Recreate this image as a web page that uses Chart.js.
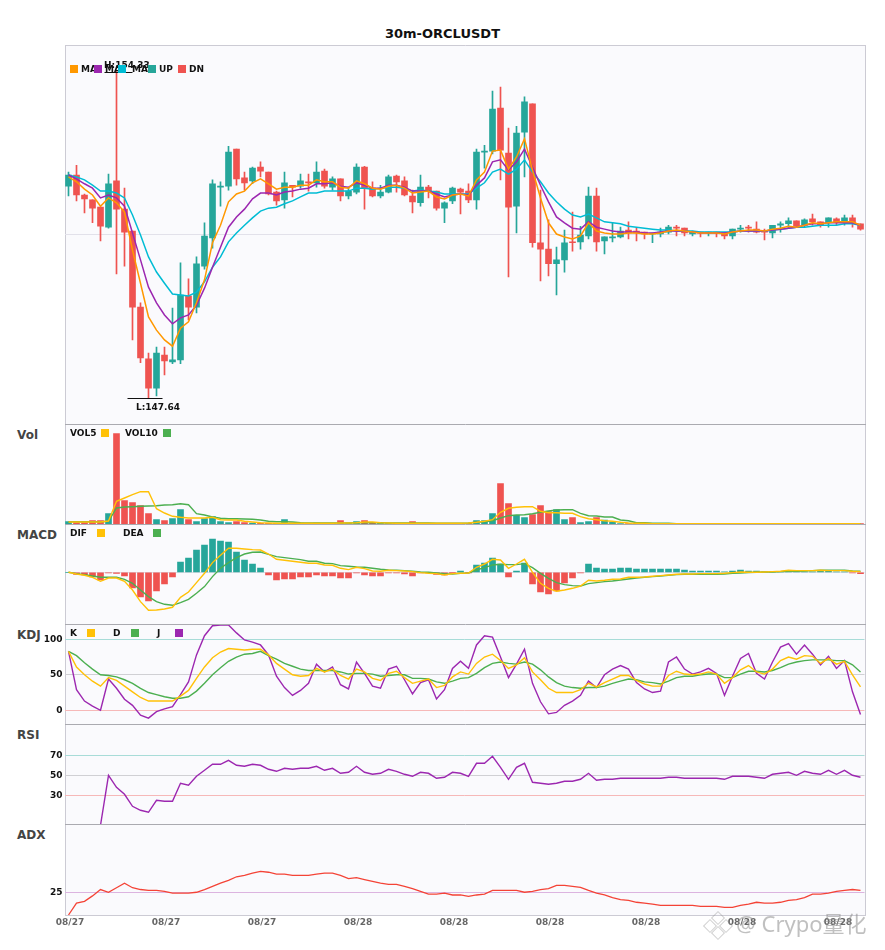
<!DOCTYPE html>
<html lang="en">
<head>
  <meta charset="UTF-8">
  <title>30m-ORCLUSDT</title>
  <script src="https://cdn.jsdelivr.net/npm/chart.js@4"></script>
  <style>
    html, body { margin: 0; padding: 0; background: #fff; }
    body { position: relative; width: 885px; height: 950px; overflow: hidden; font-family: "DejaVu Sans", sans-serif; }
    canvas { position: absolute; left: 0; }
    #title { position: absolute; left: 0; width: 885px; top: 26px; text-align: center; font: bold 13px "DejaVu Sans"; color: #111; }
    .side { position: absolute; left: 17px; font: bold 12px "DejaVu Sans"; color: #444; }
    #mark { position: absolute; left: 736px; top: 906px; font: 22px "Noto Sans", "Noto Sans CJK SC"; color: rgba(140,140,140,0.55); white-space: nowrap; }
    .dia { position: absolute; width: 8px; height: 8px; border: 1px solid rgba(140,140,140,0.4); transform: rotate(45deg); }
  </style>
</head>
<body>
  <div id="title">30m-ORCLUSDT</div>
  <div class="side" style="top:428px">Vol</div>
  <div class="side" style="top:528px">MACD</div>
  <div class="side" style="top:628px">KDJ</div>
  <div class="side" style="top:728px">RSI</div>
  <div class="side" style="top:828px">ADX</div>
  <canvas id="main" width="885" height="381" style="top:44px"></canvas>
  <canvas id="vol" width="885" height="102" style="top:423px"></canvas>
  <canvas id="macd" width="885" height="102" style="top:523px"></canvas>
  <canvas id="kdj" width="885" height="102" style="top:623px"></canvas>
  <canvas id="rsi" width="885" height="102" style="top:723px"></canvas>
  <canvas id="adx" width="885" height="127" style="top:823px"></canvas>
  <div class="dia" style="left:713px;top:913px"></div>
  <div class="dia" style="left:705px;top:921px"></div>
  <div class="dia" style="left:721px;top:921px"></div>
  <div class="dia" style="left:713px;top:928px"></div>
  <div id="mark">@ Crypo量化</div>

  <script>
    const tickLabels = ['08/27', '08/27', '08/27', '08/28', '08/28', '08/28', '08/28', '08/28', '08/28'];
    const tickStep = 12;

    const opens = [151.98,152.21,151.80,151.70,151.55,151.14,152.09,151.51,151.06,149.50,148.44,147.84,148.52,148.38,148.42,149.73,149.50,150.34,150.92,151.96,
      151.98,152.74,152.15,152.09,152.37,152.27,151.86,151.70,152.00,151.98,152.07,152.05,152.29,151.96,152.13,151.78,151.86,152.37,151.94,151.78,
      151.86,152.19,152.09,151.78,151.64,151.96,151.88,151.53,151.68,151.92,151.88,151.70,152.68,152.70,153.58,152.66,151.57,153.09,153.67,150.82,
      150.69,150.39,150.47,150.84,150.84,150.96,151.78,150.86,150.92,150.94,151.08,151.06,151.04,151.00,151.00,151.04,151.14,151.12,151.00,151.04,
      151.02,151.04,151.02,150.96,151.10,151.14,151.10,151.06,151.02,151.18,151.21,151.27,151.18,151.31,151.25,151.23,151.31,151.25,151.33,151.21];
    const highs = [152.27,152.41,151.82,151.70,151.55,152.23,154.33,151.94,151.06,149.59,148.56,148.68,148.68,149.48,150.41,150.08,150.53,151.23,152.11,152.07,
      152.80,152.74,152.27,152.37,152.48,152.27,151.88,152.27,152.00,152.23,152.23,152.48,152.33,152.17,152.13,151.94,152.44,152.39,152.07,152.00,
      152.21,152.21,152.17,151.90,152.21,152.00,151.88,151.66,151.96,151.94,152.03,152.74,152.82,153.93,154.01,153.17,153.21,153.81,153.67,151.90,
      151.29,150.73,151.08,151.45,151.16,151.96,151.94,150.94,151.23,151.14,151.25,151.12,151.04,151.02,151.12,151.18,151.18,151.12,151.06,151.04,
      151.04,151.04,151.02,151.10,151.18,151.18,151.25,151.10,151.18,151.25,151.33,151.27,151.31,151.41,151.25,151.33,151.33,151.39,151.39,151.21];
    const lows = [151.78,151.68,151.43,151.23,150.86,151.12,150.18,150.34,148.83,148.36,147.64,147.68,148.11,148.34,148.34,149.24,149.38,150.28,150.71,151.57,
      151.90,152.00,151.90,152.03,152.17,151.80,151.59,151.53,151.76,151.94,151.88,151.96,151.94,151.90,151.68,151.72,151.82,151.51,151.76,151.74,
      151.84,151.86,151.78,151.43,151.57,151.74,151.49,151.23,151.62,151.41,151.64,151.51,152.35,152.64,152.11,150.12,151.02,152.17,150.73,150.04,
      150.14,149.75,150.22,150.65,150.69,150.90,150.65,150.59,150.84,150.92,150.90,150.86,150.90,150.82,150.94,151.00,150.96,150.96,150.96,150.94,
      150.96,150.94,150.90,150.90,151.04,151.04,151.02,150.88,150.92,151.04,151.12,151.14,151.14,151.18,151.14,151.14,151.18,151.18,151.14,151.08];
    const closes = [152.21,151.80,151.72,151.53,151.16,152.03,151.51,151.04,149.50,148.46,147.84,148.56,148.40,148.42,149.75,149.50,150.39,150.96,152.03,151.98,
      152.68,152.13,152.05,152.35,152.29,151.82,151.68,152.05,151.96,152.09,152.05,152.27,151.98,152.13,151.78,151.88,152.37,151.94,151.78,151.86,
      152.17,152.07,151.80,151.66,151.96,151.88,151.53,151.64,151.94,151.86,151.70,152.68,152.70,153.56,152.72,151.55,153.07,153.71,150.82,150.69,
      150.39,150.47,150.82,150.82,150.98,151.78,150.84,150.94,150.94,151.06,151.02,151.02,151.00,151.02,151.04,151.14,151.12,151.02,151.04,151.02,
      151.04,151.02,150.96,151.10,151.12,151.12,151.04,151.04,151.18,151.21,151.27,151.16,151.29,151.25,151.18,151.33,151.23,151.33,151.23,151.10];

    const ma5 = [152.17,152.07,151.92,151.80,151.57,151.74,151.64,151.45,150.67,149.99,149.30,149.03,148.83,148.70,149.07,149.20,149.59,150.06,150.82,151.18,
      151.66,151.82,151.88,152.05,152.13,152.03,151.92,151.96,151.96,152.00,152.00,152.11,152.07,152.07,151.96,151.94,152.09,152.03,151.94,151.92,
      151.98,152.00,151.94,151.84,151.86,151.88,151.76,151.72,151.80,151.82,151.78,152.11,152.27,152.70,152.72,152.33,152.58,152.95,152.31,151.74,
      151.23,151.00,150.94,150.90,150.96,151.23,151.06,151.02,151.00,151.00,151.02,151.02,151.00,151.00,151.02,151.06,151.08,151.06,151.04,151.02,
      151.02,151.02,151.00,151.04,151.06,151.08,151.08,151.06,151.10,151.12,151.16,151.14,151.18,151.23,151.21,151.23,151.25,151.25,151.25,151.18];
    const ma10 = [152.21,152.13,152.03,151.94,151.74,151.80,151.74,151.57,151.02,150.47,149.91,149.59,149.34,149.16,149.28,149.34,149.54,149.89,150.32,150.73,
      151.14,151.35,151.51,151.72,151.84,151.84,151.80,151.86,151.88,151.92,151.94,152.03,152.03,152.05,151.98,151.96,152.05,152.00,151.94,151.94,
      152.00,152.00,151.96,151.88,151.88,151.88,151.82,151.76,151.80,151.82,151.80,152.00,152.15,152.48,152.52,152.31,152.48,152.74,152.37,152.00,
      151.66,151.35,151.23,151.12,151.10,151.25,151.14,151.10,151.06,151.04,151.04,151.04,151.02,151.02,151.04,151.06,151.06,151.06,151.04,151.02,
      151.02,151.02,151.02,151.04,151.06,151.06,151.06,151.06,151.08,151.10,151.12,151.14,151.18,151.21,151.21,151.23,151.23,151.23,151.23,151.18];
    const ma20 = [152.21,152.17,152.11,152.00,151.88,151.88,151.84,151.74,151.39,150.98,150.53,150.22,149.99,149.77,149.75,149.73,149.81,150.02,150.32,150.53,
      150.84,151.02,151.18,151.33,151.47,151.53,151.55,151.62,151.68,151.76,151.84,151.84,151.88,151.88,151.88,151.88,151.94,151.94,151.92,151.94,
      151.96,151.96,151.94,151.88,151.90,151.88,151.86,151.82,151.82,151.82,151.82,151.94,152.05,152.27,152.33,152.23,152.33,152.52,152.27,152.07,
      151.84,151.66,151.51,151.39,151.35,151.41,151.33,151.25,151.23,151.21,151.16,151.14,151.12,151.10,151.08,151.08,151.06,151.06,151.06,151.04,
      151.04,151.04,151.04,151.04,151.06,151.06,151.06,151.06,151.08,151.10,151.12,151.14,151.14,151.16,151.18,151.18,151.18,151.21,151.21,151.18];

    const volume = [2.3,1.3,1.5,3.3,3.3,10.3,90.3,23.3,21.3,18.3,10.3,4.3,3.3,5.3,14.3,4.3,2.3,5.3,7.3,2.3,
      1.3,2.3,1.3,1,0.7,0.7,0.7,4.3,1,1,0.7,1,0.7,0.7,3.3,1,2.3,3.3,1,0.7,
      0.7,0.7,0.5,2.3,0.7,0.5,0.7,0.7,0.5,0.7,0.7,3.3,3.3,10.3,40.3,20.3,8.7,6.3,9.3,18.3,
      12.3,14.3,4.3,6.3,1.3,2.3,6.3,4,2,0.5,0.5,0.5,0.4,0.4,0.4,0.3,0.3,0.3,0.3,0.3,
      0.3,0.3,0.3,0.3,0.3,0.3,0.3,0.3,0.3,0.3,0.3,0.3,0.3,0.3,0.3,0.3,0.3,0.3,0.3,0.3];
    const vol5 = [2,2,2,2,2,3,22.7,26,29.3,32.3,32.3,15.3,11,7.7,6.7,6,6,6,6.7,4.3,
      4,4,2.7,2,1.3,1,0.8,0.8,0.8,0.7,0.7,0.7,0.7,0.7,1,1,1.3,2,2,1.3,
      1,0.8,0.7,0.8,0.8,0.7,0.7,0.7,0.7,0.7,1,1.7,2.7,4.3,11.7,15.7,16.7,17.3,17.3,12.7,
      11.3,11.3,10.7,10.7,7.3,5.3,4.3,3.3,2.7,1.7,1,0.7,0.7,0.4,0.3,0.3,0.3,0.3,0.3,0.3,
      0.3,0.3,0.3,0.3,0.3,0.3,0.3,0.3,0.3,0.3,0.3,0.3,0.3,0.3,0.3,0.3,0.3,0.3,0.3,0.3];
    const vol10 = [2.3,2.3,2.3,2.3,2.3,2.7,16,17,17.3,17.7,18,18.3,19,19.3,20.3,19.3,10.3,9,7,5.7,
      5.3,5.3,5,4.7,4,2.7,2.3,2.3,2,1.3,1,1,1,1,1,1,1.3,1.3,1.3,1.3,
      1,1,1,1,1,1,0.8,0.8,0.8,0.8,1,1.7,2.3,3.3,6,8.3,9,9.3,10.3,11.7,
      13,14,14.3,14.3,10.7,8.3,8,7,7,4,3.3,1.3,1.3,0.7,0.7,0.7,0.3,0.3,0.3,0.3,
      0.3,0.3,0.3,0.3,0.3,0.3,0.3,0.3,0.3,0.3,0.3,0.3,0.3,0.3,0.3,0.3,0.3,0.3,0.3,0.3];

    const hist = [0,-0.02,-0.027,-0.047,-0.077,-0.007,-0.01,-0.037,-0.157,-0.247,-0.287,-0.187,-0.117,-0.047,0.103,0.143,0.223,0.273,0.333,0.313,
      0.303,0.203,0.123,0.083,0.043,-0.027,-0.077,-0.067,-0.067,-0.047,-0.047,-0.027,-0.037,-0.037,-0.057,-0.057,-0.007,-0.027,-0.037,-0.037,
      -0.007,-0.007,-0.017,-0.037,-0.007,-0.003,-0.02,-0.027,-0.003,0.013,-0.003,0.073,0.093,0.143,0.083,-0.047,0.013,0.093,-0.117,-0.197,
      -0.217,-0.187,-0.107,-0.057,-0.005,0.083,0.043,0.033,0.033,0.043,0.043,0.033,0.033,0.033,0.033,0.033,0.033,0.023,0.013,0.013,
      0.013,0.013,0.003,0.013,0.023,0.013,0.013,0.003,0.003,0.003,0.01,0.003,0.003,0.003,0.013,0.01,0.003,0.003,-0.007,-0.013];
    const dif = [0,-0.017,-0.03,-0.05,-0.09,-0.057,-0.057,-0.09,-0.177,-0.293,-0.38,-0.377,-0.367,-0.35,-0.25,-0.197,-0.103,-0.01,0.097,0.17,
      0.24,0.24,0.233,0.227,0.223,0.183,0.13,0.12,0.11,0.10,0.09,0.09,0.073,0.07,0.04,0.027,0.05,0.037,0.013,0.01,
      0.02,0.017,0.013,0.007,-0.003,-0.01,-0.013,-0.027,-0.013,-0.01,-0.007,0.05,0.083,0.13,0.123,0.04,0.083,0.13,0,-0.11,
      -0.16,-0.19,-0.177,-0.16,-0.137,-0.08,-0.087,-0.08,-0.07,-0.067,-0.05,-0.05,-0.047,-0.04,-0.033,-0.027,-0.02,-0.017,-0.017,-0.013,
      -0.013,-0.013,-0.01,-0.003,0.003,0,0,0.003,0.007,0.01,0.02,0.017,0.017,0.017,0.02,0.017,0.017,0.017,0.01,0.007];
    const dea = [0,-0.013,-0.023,-0.037,-0.05,-0.05,-0.05,-0.07,-0.11,-0.177,-0.243,-0.293,-0.32,-0.33,-0.303,-0.27,-0.21,-0.143,-0.043,0.04,
      0.097,0.147,0.183,0.20,0.203,0.18,0.157,0.147,0.137,0.127,0.11,0.11,0.09,0.087,0.067,0.06,0.053,0.05,0.04,0.03,
      0.023,0.02,0.017,0.01,0.003,0,-0.007,-0.013,-0.017,-0.01,-0.007,0.023,0.047,0.073,0.08,0.077,0.077,0.087,0.047,-0.01,
      -0.06,-0.103,-0.123,-0.133,-0.137,-0.113,-0.103,-0.093,-0.087,-0.077,-0.067,-0.057,-0.05,-0.043,-0.037,-0.03,-0.023,-0.02,-0.02,-0.02,
      -0.02,-0.02,-0.017,-0.01,-0.007,-0.003,0,0.003,0.003,0.007,0.01,0.01,0.013,0.017,0.02,0.02,0.02,0.02,0.013,0.01];

    const kLine = [83,61,50,41,34,46,42,34,26,18,13,13,13,13,20,28,45,61,74,82,
      87,86,85,86,86,78,66,58,50,48,49,59,54,58,49,44,58,54,45,42,
      52,55,46,38,41,44,32,35,47,54,51,66,75,79,70,59,64,74,54,43,
      31,25,25,25,29,38,33,39,44,49,49,42,37,34,34,49,55,51,50,51,
      54,51,38,46,57,63,54,51,58,70,75,72,77,76,66,73,65,69,50,33];
    const dLine = [83,77,67,58,50,49,47,43,38,31,25,22,19,17,17,19,27,38,50,60,
      69,75,79,80,83,77,72,66,62,58,56,56,56,56,54,51,52,52,51,48,
      49,50,50,45,45,44,40,38,41,45,46,52,60,66,68,66,65,68,65,57,
      47,39,34,32,31,32,32,34,38,41,44,43,40,39,37,41,46,48,48,50,
      51,51,46,46,51,55,55,54,56,60,65,68,70,71,71,71,70,70,64,54];
    const jLine = [83,29,13,6,0,44,31,15.5,7,-7,-11,-2,2,5,22,40,78,105,119,120,
      120,109,99,96,92,78,48,32,21,28,38,65,54,61,36,30,68,52,34,31,
      58,62,43,23,39,43,16,29,59,69,59,92,105,103,75,46,65,86,38,12,
      -5,-3,7,13,21,41,32,50,58,63,58,39,30,25,27,68,75,58,51,54,
      59,52,21,48,73,80,52,44,68,89,94,79,92,79,64,76,59,70,26,-6];

    const rsiLine = [null,null,null,null,0,50,38,31,19,15,13,25,24,24,42,40,49,55,61,61,
      65,60,59,61,60,56,54,57,56,57,57,59,55,57,52,53,59,53,51,52,
      56,54,51,49,53,52,47,48,53,52,49,62,62,69,58,46,58,62,43,42,
      41,42,44,44,46,52,45,46,46,47,47,47,47,47,47,48,48,47,47,47,
      47,47,46,49,49,49,48,47,51,52,53,50,54,52,51,55,51,55,50,48];
    const adxLine = [0,13,15,21,28,25,30,35,30,28,27,27,26,24,24,24,25,28,31.5,35,
      38,42,43.6,46,48,47,45,45,43.6,43.6,43.6,45,46,46,43.6,40,41,39,37,35,
      33.7,33.7,31.5,29,26,23,23,24,22,22,20.5,22,23,27,27,27,27,25,26,28,
      29,32.6,32.6,31.5,30.4,27,24,22,19,17,16,14,13,12,10.6,10.6,10.6,10.6,10.6,9.5,
      9.5,9.5,8.4,8.4,10.6,12,14,13,13,14,16,17,19,23,23,24,26,27,28,27];

    const UP = '#26a69a', DN = '#ef5350';
    const labels = opens.map((_, i) => i % tickStep === 0 ? tickLabels[i / tickStep] : '');
    const candleColors = opens.map((o, i) => closes[i] >= o ? UP : DN);

    // background, frame, legends and the high / low notes are all drawn here
    const panelChrome = {
      id: 'panelChrome',
      beforeDraw(chart) {
        const { ctx, chartArea: a } = chart;
        const left = 65.5, right = 865.5;
        ctx.save();
        ctx.fillStyle = '#fafafd';
        ctx.fillRect(left, a.top, right - left, a.height);
        ctx.lineWidth = 1;
        ctx.strokeStyle = '#cccbd4';
        ctx.beginPath();
        ctx.moveTo(left, a.top);
        ctx.lineTo(left, a.bottom);
        ctx.moveTo(right, a.top);
        ctx.lineTo(right, a.bottom);
        ctx.stroke();
        ctx.restore();
      },
      afterDraw(chart, args, opts) {
        const { ctx, chartArea: a } = chart;
        const left = 65, right = 866;
        ctx.save();
        ctx.strokeStyle = opts.topColor || '#aaaab0';
        ctx.beginPath();
        ctx.moveTo(left, a.top + 0.5);
        ctx.lineTo(right, a.top + 0.5);
        ctx.stroke();
        if (opts.bottomColor) {
          ctx.strokeStyle = opts.bottomColor;
          ctx.beginPath();
          ctx.moveTo(left, a.bottom + 0.5);
          ctx.lineTo(right, a.bottom + 0.5);
          ctx.stroke();
        }
        ctx.font = 'bold 9px "DejaVu Sans"';
        ctx.textBaseline = 'middle';
        if (opts.notes) {
          const x = chart.scales.x, y = chart.scales.y;
          ctx.strokeStyle = '#111';
          ctx.fillStyle = '#111';
          opts.notes.forEach(n => {
            const px = x.getPixelForValue(n.index), py = Math.round(y.getPixelForValue(n.value)) + 0.5;
            ctx.beginPath();
            ctx.moveTo(px + n.from, py);
            ctx.lineTo(px + n.to, py);
            ctx.stroke();
            ctx.fillText(n.text, px + n.tx, py + n.ty);
          });
        }
        (opts.legend || []).forEach(l => {
          ctx.fillStyle = '#111';
          ctx.fillText(l.text, l.tx, a.top + opts.legendY + 1);
          ctx.fillStyle = l.color;
          ctx.fillRect(l.sx, a.top + opts.legendY - 4, 8, 8);
        });
        ctx.restore();
      }
    };
    Chart.register(panelChrome);

    function line(label, data, color, width) {
      return { type: 'line', label, data, borderColor: color, borderWidth: width || 1.4, pointRadius: 0, tension: 0, order: 0, spanGaps: false };
    }

    function makePanel(id, datasets, yOpts, chromeOpts, showX) {
      return new Chart(document.getElementById(id), {
        type: 'bar',
        data: { labels, datasets },
        options: {
          responsive: false,
          animation: false,
          events: [],
          layout: { autoPadding: false, padding: { top: 1, right: 20.5, bottom: showX ? 0 : 1, left: 0 } },
          plugins: { legend: { display: false }, tooltip: { enabled: false }, panelChrome: chromeOpts },
          scales: {
            x: {
              display: !!showX,
              offset: true,
              grid: { display: false, drawTicks: false, tickLength: 0 },
              border: { display: false },
              afterFit: s => { if (showX) s.height = 35; },
              ticks: {
                autoSkip: false, maxRotation: 0, minRotation: 0, padding: 2, labelOffset: 1.5,
                color: '#666', font: { family: 'DejaVu Sans', size: 9, weight: 'bold' },
                align: 'center'
              }
            },
            y: {
              min: yOpts.min,
              max: yOpts.max,
              afterFit: s => { s.width = 64.5; s.paddingTop = 0; s.paddingBottom = 0; },
              afterBuildTicks: s => { s.ticks = yOpts.lines.map(l => ({ value: l.value })); },
              border: { display: false },
              grid: {
                drawTicks: false,
                color: c => { const l = yOpts.lines.find(l => l.value === c.tick.value); return l ? l.color : 'transparent'; },
                lineWidth: 1
              },
              ticks: {
                display: !!yOpts.showTicks,
                padding: 2,
                color: '#111',
                font: { family: 'DejaVu Sans', size: 9, weight: 'bold' }
              }
            }
          }
        }
      });
    }

    makePanel('main', [
      line('MA5', ma5, '#ff9800', 1.5),
      line('MA10', ma10, '#9c27b0', 1.5),
      line('MA20', ma20, '#00bcd4', 1.5),
      { label: 'body', data: opens.map((o, i) => [o, closes[i]]), backgroundColor: candleColors, barThickness: 6, minBarLength: 1, grouped: false, order: 1 },
      { label: 'wick', data: lows.map((l, i) => [l, highs[i]]), backgroundColor: candleColors, barThickness: 1, grouped: false, order: 2 }
    ], { min: 147.105, max: 154.875, lines: [{ value: 151, color: '#e2e1ea' }] }, {
      topColor: '#cccbd4',
      legendY: 24,
      legend: [
        { text: 'MA', tx: 81, sx: 70, color: '#ff9800' },
        { text: 'MA', tx: 105, sx: 94, color: '#9c27b0' },
        { text: 'MA', tx: 132, sx: 118, color: '#00bcd4' },
        { text: 'UP', tx: 159, sx: 148, color: UP },
        { text: 'DN', tx: 189, sx: 178, color: DN }
      ],
      notes: [
        { index: 6, value: 154.33, from: -12, to: 16, tx: -12.5, ty: -7, text: 'H:154.33' },
        { index: 10, value: 147.64, from: -21, to: 14, tx: -12.5, ty: 9, text: 'L:147.64' }
      ]
    });

    makePanel('vol', [
      line('VOL5', vol5, '#ffc107'),
      line('VOL10', vol10, '#4caf50'),
      { label: 'volume', data: volume, backgroundColor: candleColors, barThickness: 6, grouped: false, order: 1 }
    ], { min: 0, max: 100, lines: [] }, {
      legendY: 9,
      legend: [
        { text: 'VOL5', tx: 70, sx: 101, color: '#ffc107' },
        { text: 'VOL10', tx: 125, sx: 163, color: '#4caf50' }
      ]
    });

    makePanel('macd', [
      line('DIF', dif, '#ffc107'),
      line('DEA', dea, '#4caf50'),
      { label: 'hist', data: hist, backgroundColor: hist.map(v => v >= 0 ? UP : DN), barThickness: 6, grouped: false, order: 1 }
    ], { min: -0.517, max: 0.483, lines: [{ value: 0, color: '#dddde4' }] }, {
      legendY: 9,
      legend: [
        { text: 'DIF', tx: 70, sx: 97, color: '#ffc107' },
        { text: 'DEA', tx: 123, sx: 153, color: '#4caf50' }
      ]
    });

    makePanel('kdj', [
      line('K', kLine, '#ffc107'),
      line('D', dLine, '#4caf50'),
      line('J', jLine, '#9c27b0')
    ], {
      min: -19.3, max: 121.5, showTicks: true,
      lines: [{ value: 0, color: '#f6b8b8' }, { value: 50, color: '#d0d0d4' }, { value: 100, color: '#a8dcd8' }]
    }, {
      legendY: 9,
      legend: [
        { text: 'K', tx: 70, sx: 87, color: '#ffc107' },
        { text: 'D', tx: 113, sx: 131, color: '#4caf50' },
        { text: 'J', tx: 157, sx: 175, color: '#9c27b0' }
      ]
    });

    makePanel('rsi', [line('RSI', rsiLine, '#9c27b0')], {
      min: 1.3, max: 101.3, showTicks: true,
      lines: [{ value: 30, color: '#f6b8b8' }, { value: 50, color: '#d0d0d4' }, { value: 70, color: '#a8dcd8' }]
    }, {});

    makePanel('adx', [line('ADX', adxLine, '#f44336', 1.3)], {
      min: 0, max: 100, showTicks: true,
      lines: [{ value: 25, color: '#dcb4e0' }]
    }, { bottomColor: '#cccbd4' }, true);
  </script>
</body>
</html>
